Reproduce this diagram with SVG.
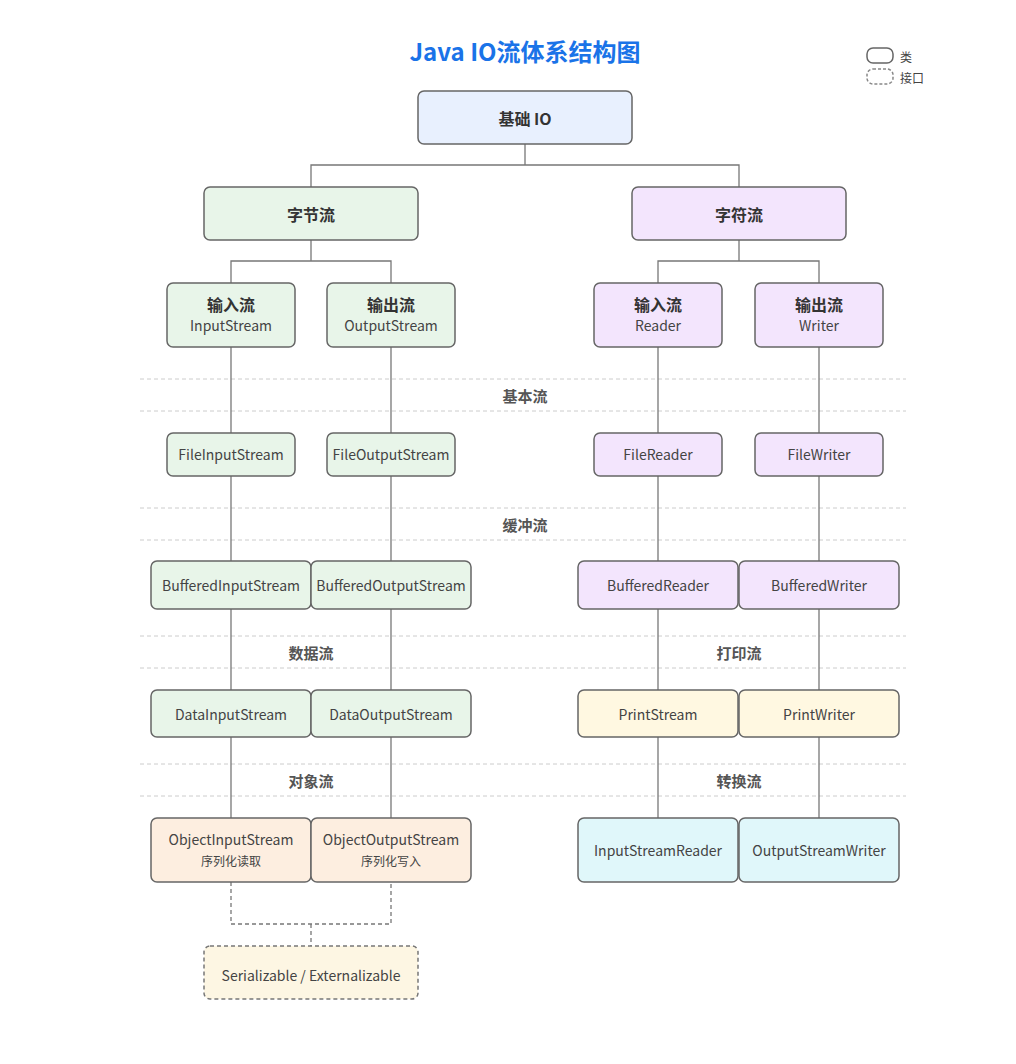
<svg xmlns="http://www.w3.org/2000/svg" width="1016" height="1064" viewBox="0 0 1016 1064">
<style>
text{font-family:"Noto Sans CJK SC","Noto Sans",sans-serif;fill:#333;text-anchor:middle;dominant-baseline:central}
.b{font-weight:bold;font-size:16px}
.n{font-size:14px;fill:#444}
.s{font-size:12px;fill:#444}
.sec{font-weight:bold;font-size:15px;fill:#555}
rect.nd{stroke:#666;stroke-width:1.5}
.c line,.c path{stroke:#777;stroke-width:1.3;fill:none}
.sep{stroke:#ccc;stroke-width:1;stroke-dasharray:4 3}
.g{fill:#e8f5e9}.p{fill:#f3e5fd}.y{fill:#fff8e1}.o{fill:#fdeee0}.t{fill:#e0f7fa}
</style>
<rect width="1016" height="1064" fill="#fff"/>
<text x="525" y="50" style="font-size:24px;font-weight:bold;fill:#1a73e8">Java IO流体系结构图</text>
<g id="legend">
<rect x="867" y="48" width="26" height="15" rx="6" fill="#fff" stroke="#666" stroke-width="1.5"/>
<rect x="867" y="69" width="26" height="15" rx="6" fill="#fff" stroke="#888" stroke-width="1.5" stroke-dasharray="3 2"/>
<text x="906" y="56" class="s">类</text><text x="912" y="77" class="s">接口</text>
</g>
<g id="separators">
<line class="sep" x1="140" y1="379" x2="906" y2="379"/><line class="sep" x1="140" y1="411" x2="906" y2="411"/>
<line class="sep" x1="140" y1="508" x2="906" y2="508"/><line class="sep" x1="140" y1="540" x2="906" y2="540"/>
<line class="sep" x1="140" y1="636" x2="906" y2="636"/><line class="sep" x1="140" y1="668" x2="906" y2="668"/>
<line class="sep" x1="140" y1="764" x2="906" y2="764"/><line class="sep" x1="140" y1="796" x2="906" y2="796"/>
<text x="525" y="395" class="sec">基本流</text><text x="525" y="524" class="sec">缓冲流</text>
<text x="311" y="652" class="sec">数据流</text><text x="739" y="652" class="sec">打印流</text>
<text x="311" y="780" class="sec">对象流</text><text x="739" y="780" class="sec">转换流</text>
</g>
<g class="c" id="connectors">
<path d="M525 144V165M311 187V165H739V187"/>
<path d="M311 240V261M231 283V261H391V283"/>
<path d="M739 240V261M658 283V261H819V283"/>
<line x1="231" y1="347" x2="231" y2="818"/><line x1="391" y1="347" x2="391" y2="818"/>
<line x1="658" y1="347" x2="658" y2="818"/><line x1="819" y1="347" x2="819" y2="818"/>
<path d="M231 882V924H391V882M311 924V946" style="stroke-dasharray:4 3"/>
</g>
<g id="root"><rect class="nd" x="418" y="91" width="214" height="53" rx="6" fill="#e8f0fe"/><text x="525" y="118" class="b">基础 IO</text></g>
<g id="byte"><rect class="nd g" x="204" y="187" width="214" height="53" rx="6"/><text x="311" y="214" class="b">字节流</text></g>
<g id="char"><rect class="nd p" x="632" y="187" width="214" height="53" rx="6"/><text x="739" y="214" class="b">字符流</text></g>
<g id="in"><rect class="nd g" x="167" y="283" width="128" height="64" rx="6"/><text x="231" y="304" class="b">输入流</text><text x="231" y="325" class="n">InputStream</text></g>
<g id="out"><rect class="nd g" x="327" y="283" width="128" height="64" rx="6"/><text x="391" y="304" class="b">输出流</text><text x="391" y="325" class="n">OutputStream</text></g>
<g id="reader"><rect class="nd p" x="594" y="283" width="128" height="64" rx="6"/><text x="658" y="304" class="b">输入流</text><text x="658" y="325" class="n">Reader</text></g>
<g id="writer"><rect class="nd p" x="755" y="283" width="128" height="64" rx="6"/><text x="819" y="304" class="b">输出流</text><text x="819" y="325" class="n">Writer</text></g>
<g id="fis"><rect class="nd g" x="167" y="433" width="128" height="43" rx="6"/><text x="231" y="454" class="n">FileInputStream</text></g>
<g id="fos"><rect class="nd g" x="327" y="433" width="128" height="43" rx="6"/><text x="391" y="454" class="n">FileOutputStream</text></g>
<g id="fr"><rect class="nd p" x="594" y="433" width="128" height="43" rx="6"/><text x="658" y="454" class="n">FileReader</text></g>
<g id="fw"><rect class="nd p" x="755" y="433" width="128" height="43" rx="6"/><text x="819" y="454" class="n">FileWriter</text></g>
<g id="bis"><rect class="nd g" x="151" y="561" width="160" height="48" rx="6"/><text x="231" y="585" class="n">BufferedInputStream</text></g>
<g id="bos"><rect class="nd g" x="311" y="561" width="160" height="48" rx="6"/><text x="391" y="585" class="n">BufferedOutputStream</text></g>
<g id="br"><rect class="nd p" x="578" y="561" width="160" height="48" rx="6"/><text x="658" y="585" class="n">BufferedReader</text></g>
<g id="bw"><rect class="nd p" x="739" y="561" width="160" height="48" rx="6"/><text x="819" y="585" class="n">BufferedWriter</text></g>
<g id="dis"><rect class="nd g" x="151" y="690" width="160" height="47" rx="6"/><text x="231" y="714" class="n">DataInputStream</text></g>
<g id="dos"><rect class="nd g" x="311" y="690" width="160" height="47" rx="6"/><text x="391" y="714" class="n">DataOutputStream</text></g>
<g id="ps"><rect class="nd y" x="578" y="690" width="160" height="47" rx="6"/><text x="658" y="714" class="n">PrintStream</text></g>
<g id="pw"><rect class="nd y" x="739" y="690" width="160" height="47" rx="6"/><text x="819" y="714" class="n">PrintWriter</text></g>
<g id="ois"><rect class="nd o" x="151" y="818" width="160" height="64" rx="6"/><text x="231" y="839" class="n">ObjectInputStream</text><text x="231" y="860" class="s">序列化读取</text></g>
<g id="oos"><rect class="nd o" x="311" y="818" width="160" height="64" rx="6"/><text x="391" y="839" class="n">ObjectOutputStream</text><text x="391" y="860" class="s">序列化写入</text></g>
<g id="isr"><rect class="nd t" x="578" y="818" width="160" height="64" rx="6"/><text x="658" y="850" class="n">InputStreamReader</text></g>
<g id="osw"><rect class="nd t" x="739" y="818" width="160" height="64" rx="6"/><text x="819" y="850" class="n">OutputStreamWriter</text></g>
<g id="ser"><rect x="204" y="946" width="214" height="53" rx="6" fill="#fdf6e3" stroke="#777" stroke-width="1.5" stroke-dasharray="4 3"/><text x="311" y="975" class="n">Serializable / Externalizable</text></g>
</svg>
